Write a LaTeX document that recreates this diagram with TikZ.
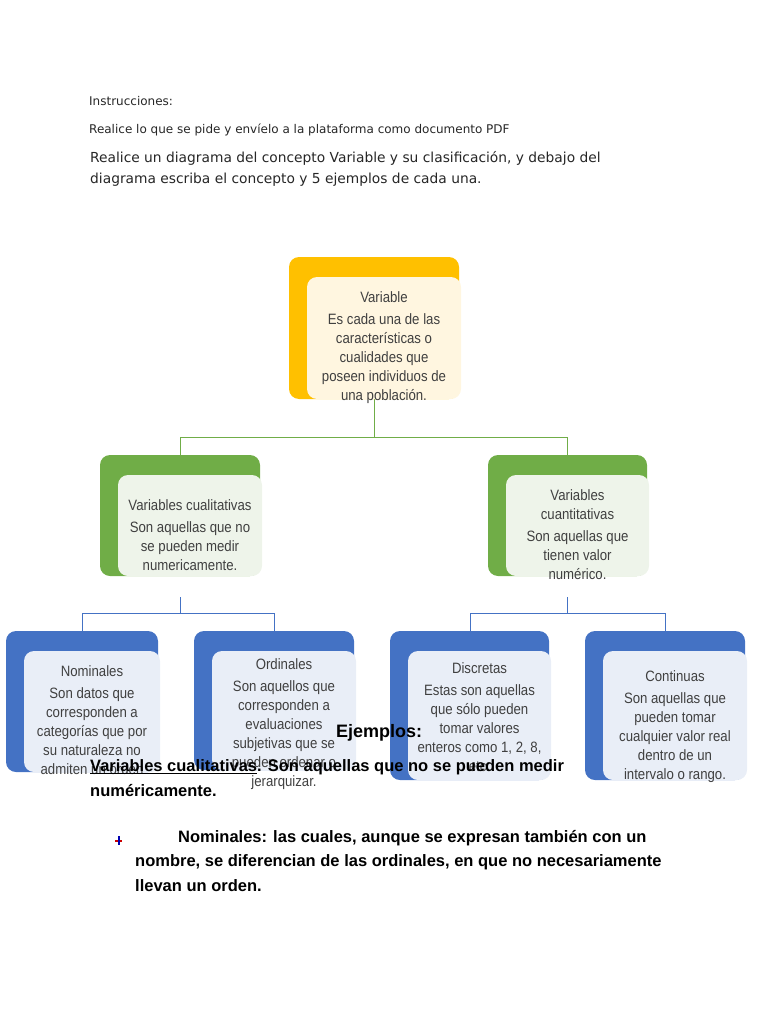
\documentclass[tikz,border=0pt]{standalone}
\usepackage{fontspec}
\setmainfont{Liberation Sans}
\newfontfamily\verd{DejaVu Sans}
\begin{document}
\begin{tikzpicture}[x=1pt,y=-1pt,
  boxtxt/.style={align=center,font=\fontsize{15}{19}\selectfont\addfontfeatures{FakeStretch=0.88},text=black!75,inner sep=0},
  conn/.style={line width=0.9pt},
  boldtxt/.style={anchor=west,font=\bfseries\fontsize{16.5}{18}\selectfont,inner sep=0}]
\useasboundingbox (0,0) rectangle (768,1024);
\definecolor{orng}{HTML}{FFC000}\definecolor{orngl}{HTML}{FFF6E0}
\definecolor{grn}{HTML}{70AD47}\definecolor{grnl}{HTML}{EEF4EA}
\definecolor{blu}{HTML}{4472C4}\definecolor{blul}{HTML}{E9EEF7}
\newcommand\cbox[9]{% name, x1,y1,x2,y2, dark, light, textcentery, text
  \fill[#6,rounded corners=10pt] (#2,#3) rectangle (#4,#5);
  \fill[#7,rounded corners=10pt] (#2+18,#3+20) rectangle (#4+2,#5);
  \node[boxtxt] (#1) at ({(#2+18+#4+2)/2},#8) {#9};
}
% connectors
\draw[grn,conn] (374,399) -- (374,437) coordinate (gm);
\draw[grn,conn] (180,455) -- (180,437) -- (567,437) -- (567,455);
\draw[blu,conn] (180,597) -- (180,613);
\draw[blu,conn] (82,631) -- (82,613) -- (274,613) -- (274,631);
\draw[blu,conn] (567,597) -- (567,613);
\draw[blu,conn] (470,631) -- (470,613) -- (665,613) -- (665,631);
\cbox{var}{289}{257}{459}{399}{orng}{orngl}{348}{Variable\\[3pt]Es cada una de las\\características o\\cualidades que\\poseen individuos de\\una población.}
\cbox{cual}{100}{455}{260}{576}{grn}{grnl}{535}{Variables cualitativas\\[3pt]Son aquellas que no\\se pueden medir\\numericamente.}
\cbox{cuan}{488}{455}{647}{576}{grn}{grnl}{535}{Variables\\cuantitativas\\[3pt]Son aquellas que\\tienen valor\\numérico.}
\cbox{nom}{6}{631}{158}{772}{blu}{blul}{720}{Nominales\\[3pt]Son datos que\\corresponden a\\categorías que por\\su naturaleza no\\admiten un orden}
\cbox{ord}{194}{631}{354}{770}{blu}{blul}{724}{Ordinales\\[3pt]Son aquellos que\\corresponden a\\evaluaciones\\subjetivas que se\\pueden ordenar o\\jerarquizar.}
\cbox{dis}{390}{631}{549}{780}{blu}{blul}{717}{Discretas\\[3pt]Estas son aquellas\\que sólo pueden\\tomar valores\\enteros como 1, 2, 8,\\etc.}
\cbox{con}{585}{631}{745}{780}{blu}{blul}{727}{Continuas\\[3pt]Son aquellas que\\pueden tomar\\cualquier valor real\\dentro de un\\intervalo o rango.}
% header text
\node[anchor=west,font=\verd\fontsize{12}{14}\selectfont,text=black!85,inner sep=0] (t1) at (89,101) {Instrucciones:};
\node[anchor=west,font=\verd\fontsize{12}{14}\selectfont,text=black!85,inner sep=0] (t2) at (89,130) {Realice lo que se pide y envíelo a la plataforma como documento PDF};
\node[anchor=north west,align=left,font=\verd\fontsize{13.8}{21}\selectfont,text=black!85,inner sep=0] (t3) at (90,151) {Realice un diagrama del concepto Variable y su clasificación, y debajo del\\diagrama escriba el concepto y 5 ejemplos de cada una.};
% lower text
\node[anchor=west,font=\bfseries\fontsize{18}{20}\selectfont,inner sep=0] (ej) at (336,733) {Ejemplos:};
\node[boldtxt] (vc) at (90,767) {\underline{Variables cualitativas}. Son aquellas que no se pueden medir};
\node[boldtxt] (nm) at (90,791) {numéricamente.};
\fill[red!80!black] (115,840) rectangle (122,842);
\fill[blue!70!black] (118,836) rectangle (119.5,845);
\node[boldtxt] (b1) at (178,838) {Nominales: las cuales, aunque se expresan también con un};
\node[boldtxt] (b2) at (135,862) {nombre, se diferencian de las ordinales, en que no necesariamente};
\node[boldtxt] (b3) at (135,886) {llevan un orden.};
\end{tikzpicture}
\end{document}
